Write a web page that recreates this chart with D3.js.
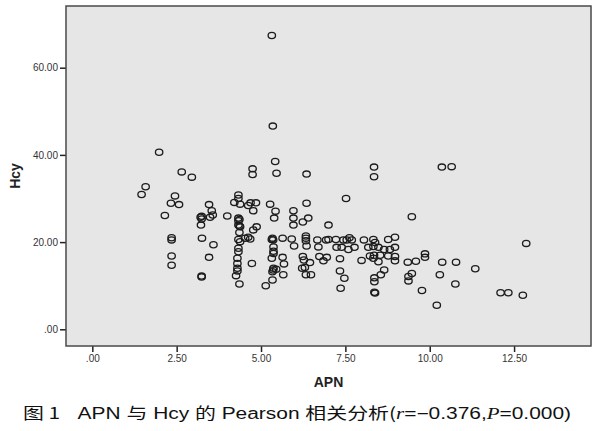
<!DOCTYPE html>
<html>
<head>
<meta charset="utf-8">
<script src="https://cdn.jsdelivr.net/npm/d3@7"></script>
<style>
  html, body { margin: 0; padding: 0; background: #fff; }
  svg { display: block; }
</style>
</head>
<body>
<svg id="chart" width="600" height="431"></svg>
<script>
// ---- Data ----
const apn = [
  1.46, 1.58, 1.98, 2.15, 2.33, 2.45, 2.57, 2.65, 2.95, 2.35, 2.35, 2.35, 2.35,
  3.21, 3.24, 3.24, 3.49, 3.57, 3.22, 3.46, 3.54, 3.25, 3.59, 3.46, 3.24, 3.24,
  4.00, 4.33, 4.33, 4.21, 4.38, 4.62, 4.69, 4.85, 4.77, 4.33, 4.33, 4.33, 4.38,
  4.87, 4.77, 4.75, 4.75, 5.42, 5.46, 5.32, 5.35, 6.35, 5.27, 5.43, 5.39, 5.96,
  5.96, 5.96, 6.24, 6.35, 6.40, 4.33, 4.38, 4.53, 4.62, 4.68, 4.33, 4.33, 4.30,
  4.30, 4.30, 4.30, 4.26, 4.36, 4.73, 5.34, 5.37, 5.37, 5.32, 5.37, 5.34, 5.34,
  5.14, 5.64, 5.91, 5.98, 5.64, 5.68, 5.66, 5.45, 6.33, 6.33, 6.35, 6.24, 6.27,
  6.45, 6.22, 6.30, 6.33, 6.48, 6.67, 6.70, 6.73, 8.35, 8.35, 10.36, 10.65, 7.52,
  9.47, 7.00, 12.86, 6.93, 7.00, 7.22, 7.44, 7.54, 7.62, 7.69, 8.05, 8.33, 8.38,
  8.77, 8.97, 7.24, 7.39, 7.59, 7.77, 8.18, 8.33, 8.48, 8.65, 8.82, 8.97, 6.85,
  6.95, 7.34, 7.98, 8.23, 8.35, 8.53, 8.77, 8.97, 8.97, 9.86, 9.86, 8.48, 9.35,
  9.59, 10.37, 10.78, 11.35, 7.34, 7.47, 8.65, 8.55, 8.36, 8.36, 8.36, 8.38, 9.47,
  9.37, 9.37, 10.30, 10.76, 7.36, 9.77, 10.21, 12.10, 12.33, 12.76, 5.32, 4.36,
  8.33, 4.36, 4.36, 5.36, 5.37, 5.36, 6.33
];
const hcy = [
  30.9, 32.7, 40.6, 26.1, 28.9, 30.6, 28.6, 36.1, 34.9, 21.0, 20.5, 16.8, 14.7,
  25.7, 25.3, 25.9, 25.7, 26.2, 23.9, 28.6, 27.2, 20.9, 19.4, 16.5, 12.2, 12.0,
  26.0, 30.8, 30.0, 29.1, 28.7, 28.4, 29.0, 29.0, 27.2, 25.5, 24.9, 23.9, 23.5,
  23.5, 22.8, 36.8, 35.5, 38.5, 35.8, 67.4, 46.6, 35.6, 28.7, 27.1, 25.5, 27.2,
  25.5, 23.9, 24.6, 28.9, 25.5, 20.6, 20.1, 20.9, 21.1, 20.7, 18.6, 17.8, 16.3,
  15.1, 14.0, 13.4, 12.3, 10.4, 15.1, 20.9, 18.9, 17.4, 16.3, 14.0, 13.2, 11.3,
  10.0, 20.9, 20.7, 19.1, 16.5, 15.0, 12.5, 13.8, 21.4, 20.9, 19.1, 16.7, 15.9,
  15.3, 14.0, 14.2, 12.5, 12.5, 20.5, 18.9, 16.7, 37.2, 35.0, 37.2, 37.3, 30.0,
  25.8, 23.9, 19.7, 20.5, 20.6, 20.6, 20.5, 20.5, 21.0, 20.5, 20.5, 20.6, 19.9,
  20.6, 21.1, 18.8, 18.8, 18.3, 18.8, 18.8, 19.0, 18.8, 18.3, 18.3, 18.8, 15.7,
  16.5, 16.2, 15.8, 16.8, 17.0, 17.0, 16.8, 16.7, 15.7, 17.3, 16.5, 15.5, 15.4,
  15.6, 15.4, 15.4, 13.9, 13.4, 11.7, 13.6, 12.5, 11.8, 10.9, 8.5, 8.3, 12.8,
  12.1, 11.1, 12.5, 10.4, 9.4, 8.9, 5.5, 8.4, 8.4, 7.8, 20.6, 22.2,
  16.3, 25.2, 23.7, 20.5, 17.9, 13.6, 20.3
];
const xTicks = [0, 2.5, 5, 7.5, 10, 12.5];
const yTicks = [0, 20, 40, 60];
const xTickLabels = [".00", "2.50", "5.00", "7.50", "10.00", "12.50"];
const yTickLabels = [".00", "20.00", "40.00", "60.00"];
const xTitle = "APN";
const yTitle = "Hcy";

// ---- Layout ----
const svg = d3.select("#chart");
const L = 66, R = 591, T = 6, B = 346;
const x = d3.scaleLinear().domain([-0.78, 14.78]).range([L, R]);
const y = d3.scaleLinear().domain([-3.83, 74.15]).range([B, T]);
const tickFont = "'Liberation Sans', Arial, sans-serif";

// plot background
svg.append("rect")
  .attr("x", L).attr("y", T).attr("width", R - L).attr("height", B - T)
  .attr("fill", "#e6e6e6");

// axes
const yAxis = d3.axisLeft(y).tickValues(yTicks).tickSize(6).tickPadding(2)
  .tickFormat((d, i) => yTickLabels[i]);
const gy = svg.append("g").attr("transform", `translate(${L},0)`).call(yAxis);
gy.select(".domain").remove();
gy.selectAll("line").attr("stroke", "#222").attr("stroke-width", 1.5);
gy.selectAll("text").attr("font-family", tickFont).attr("font-size", 10).attr("fill", "#333");

const xAxis = d3.axisBottom(x).tickValues(xTicks).tickSize(6).tickPadding(3)
  .tickFormat((d, i) => xTickLabels[i]);
const gx = svg.append("g").attr("transform", `translate(0,${B})`).call(xAxis);
gx.select(".domain").remove();
gx.selectAll("line").attr("stroke", "#222").attr("stroke-width", 1.5);
gx.selectAll("text").attr("font-family", tickFont).attr("font-size", 10).attr("fill", "#333");

// points
const pts = apn.map((v, i) => ({ x: v, y: hcy[i] }));
svg.append("g").selectAll("ellipse").data(pts).join("ellipse")
  .attr("cx", d => x(d.x)).attr("cy", d => y(d.y))
  .attr("rx", 3.7).attr("ry", 3.1)
  .attr("fill", "none").attr("stroke", "#1c1c1c").attr("stroke-width", 1.3);

// frame
svg.append("rect")
  .attr("x", L).attr("y", T).attr("width", R - L).attr("height", B - T)
  .attr("fill", "none").attr("stroke", "#4a4a4a").attr("stroke-width", 1.5);

// axis titles
svg.append("text")
  .attr("x", (L + R) / 2).attr("y", 387)
  .attr("text-anchor", "middle")
  .attr("font-family", tickFont).attr("font-weight", "bold").attr("font-size", 14)
  .attr("fill", "#222").text(xTitle);
svg.append("text")
  .attr("transform", `translate(20,${(T + B) / 2}) rotate(-90)`)
  .attr("text-anchor", "middle")
  .attr("font-family", tickFont).attr("font-weight", "bold").attr("font-size", 14)
  .attr("fill", "#222").text(yTitle);

// caption
const cap = svg.append("text")
  .attr("x", 23).attr("y", 419)
  .attr("font-family", "'Liberation Sans', 'Noto Sans CJK SC', sans-serif")
  .attr("font-size", 16).attr("fill", "#111")
  .attr("textLength", 548).attr("lengthAdjust", "spacingAndGlyphs")
  .style("white-space", "pre");
cap.append("tspan").attr("font-family", "'Noto Sans CJK SC', sans-serif").text("图 1");
cap.append("tspan").text("   APN ");
cap.append("tspan").attr("font-family", "'Noto Sans CJK SC', sans-serif").text("与");
cap.append("tspan").text(" Hcy ");
cap.append("tspan").attr("font-family", "'Noto Sans CJK SC', sans-serif").text("的");
cap.append("tspan").text(" Pearson ");
cap.append("tspan").attr("font-family", "'Noto Sans CJK SC', sans-serif").text("相关分析(");
cap.append("tspan").attr("font-family", "'Liberation Serif', serif").attr("font-style", "italic").text("r");
cap.append("tspan").text("=\u22120.376,");
cap.append("tspan").attr("font-family", "'Liberation Serif', serif").attr("font-style", "italic").text("P");
cap.append("tspan").text("=0.000)");
</script>
</body>
</html>
